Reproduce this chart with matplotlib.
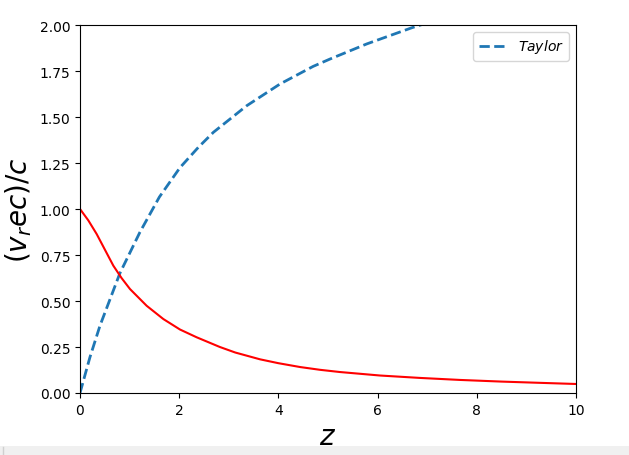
import numpy as np
import matplotlib.pyplot as plt
from matplotlib.patches import Rectangle

# values
z_exact = [0, 0.168, 0.336, 0.5, 0.672, 0.84, 1.008, 1.344, 1.68, 2.016, 2.35,
           2.82, 3.13, 3.63, 4.0, 4.44, 4.84, 5.24, 6.05, 6.85, 7.66, 8.5,
           9.3, 10]
v_exact = [1.0, 0.938, 0.864, 0.78, 0.692, 0.624, 0.565, 0.474, 0.402, 0.345,
           0.303, 0.25, 0.22, 0.183, 0.162, 0.141, 0.126, 0.114, 0.095, 0.082,
           0.071, 0.062, 0.055, 0.049]

z_taylor = [0, 0.2, 0.403, 0.806, 1.21, 1.6, 2.016, 2.385, 2.69, 3.36, 4.03,
            4.7, 5.04, 5.78, 6.12, 6.69, 6.9, 7.1]
v_taylor = [0, 0.194, 0.366, 0.652, 0.875, 1.065, 1.225, 1.335, 1.417, 1.561,
            1.679, 1.775, 1.815, 1.897, 1.930, 1.985, 2.003, 2.018]

fig = plt.figure(figsize=(6.29, 4.56), dpi=100)
ax = fig.add_axes([80 / 629, 1 - 394 / 456, 496 / 629, 368 / 456])

ax.plot(z_taylor, v_taylor, '--', color='#1f77b4', lw=2, label='$Taylor$')
ax.plot(z_exact, v_exact, 'r-', lw=1.5)

ax.set_xlim(0, 10)
ax.set_ylim(0, 2)
ax.set_xlabel('$z$', fontsize=20)
ax.set_ylabel('$(v_rec)/c$', fontsize=20)
ax.legend(loc='upper right')

# grey strip of the window at the bottom
fig.patches.append(Rectangle((0, 0), 1, 9 / 456, transform=fig.transFigure,
                             facecolor='#f0f0f0', edgecolor='none'))
fig.lines.append(plt.Line2D([3.5 / 629, 3.5 / 629], [0, 8 / 456],
                            transform=fig.transFigure, color='#d0d0d0', lw=1))

fig.savefig('out.png', dpi=100)
